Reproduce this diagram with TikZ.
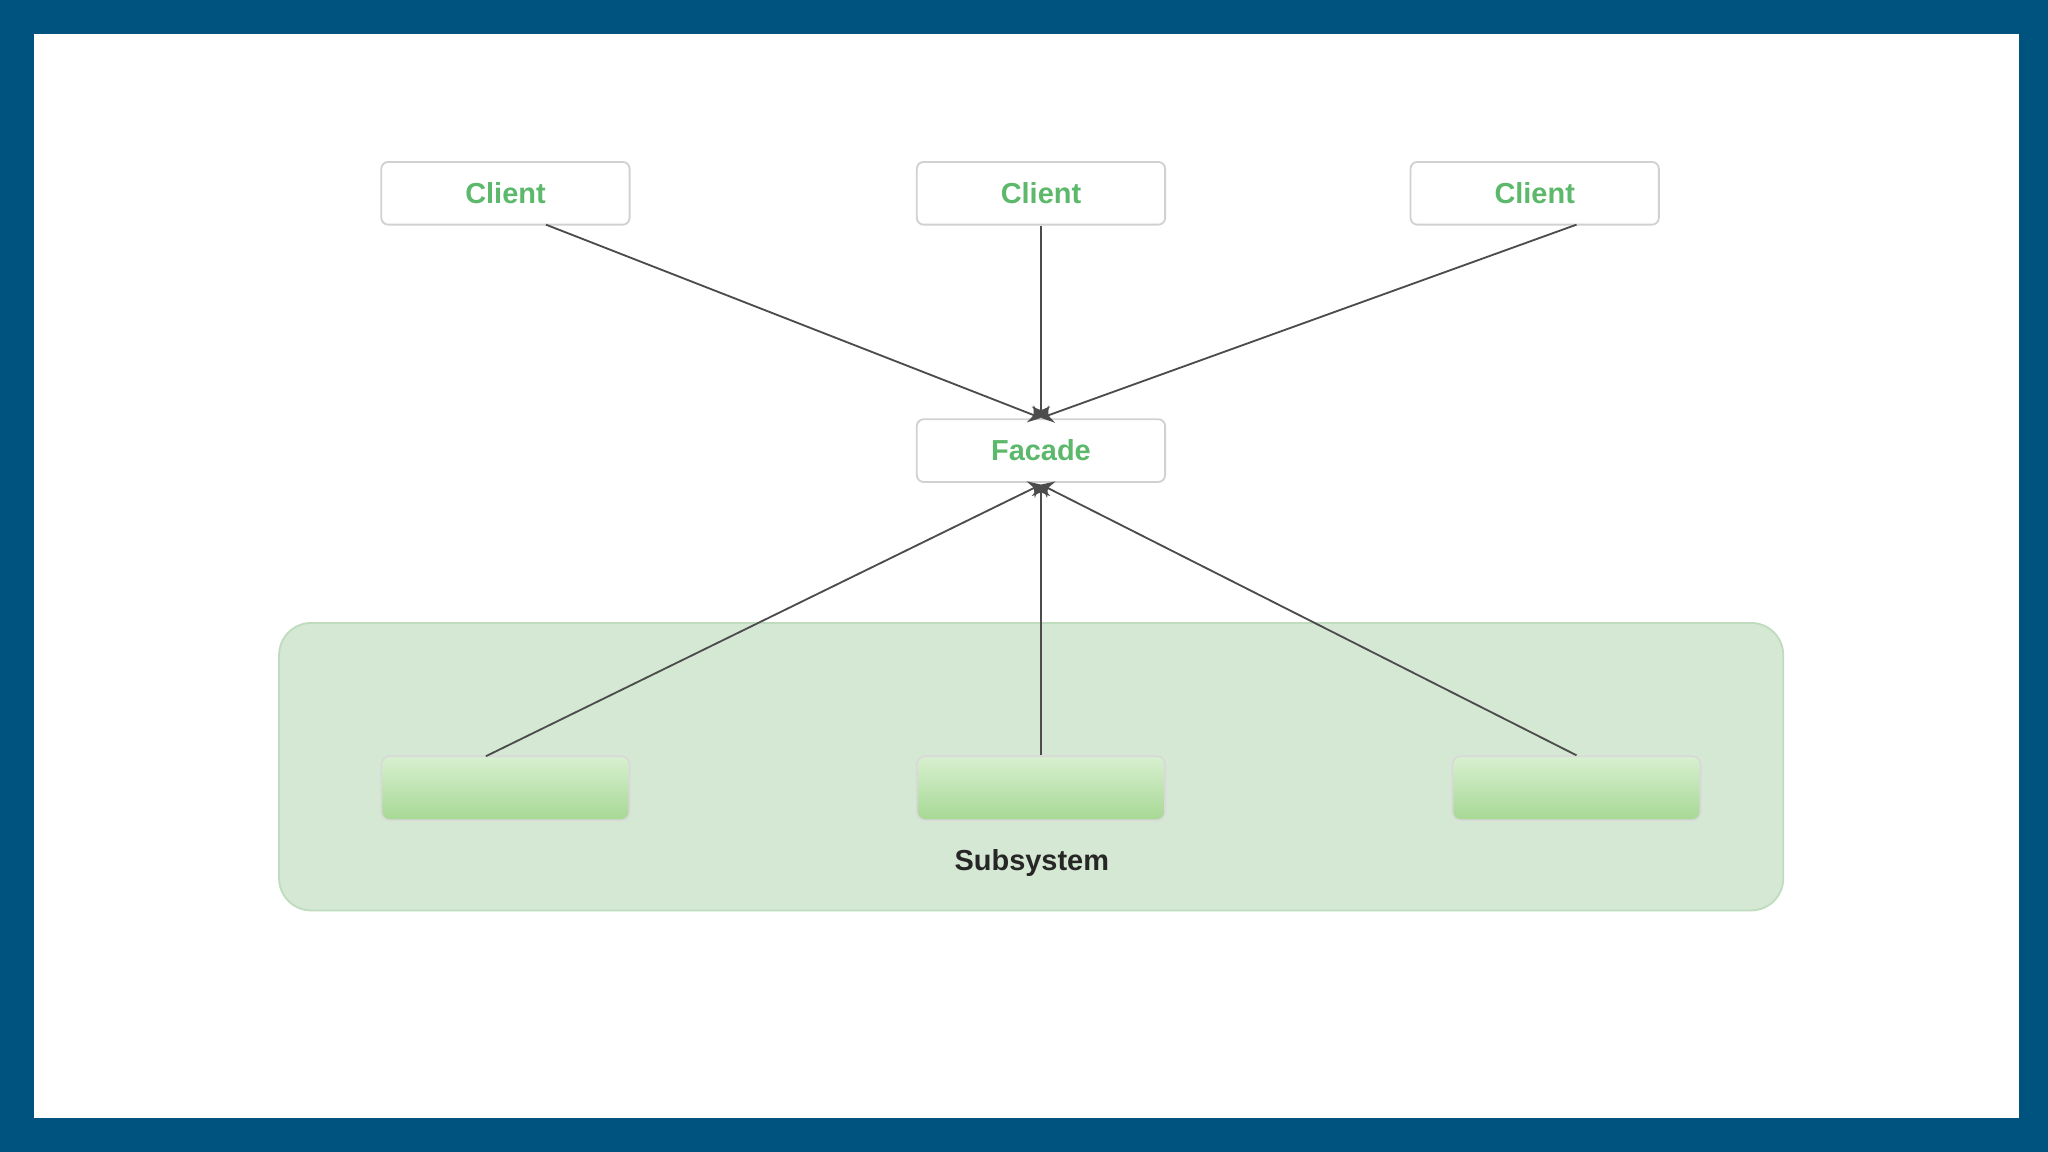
\documentclass[tikz,border=0pt]{standalone}
\usepackage{fontspec}
\setmainfont{Liberation Sans}
\usetikzlibrary{arrows.meta}
\definecolor{frame}{HTML}{00527F}
\definecolor{txtgreen}{HTML}{5CB86A}
\definecolor{subfill}{HTML}{D5E8D4}
\definecolor{subdraw}{HTML}{BFDDBE}
\definecolor{ptop}{HTML}{D8F0D0}
\definecolor{pbot}{HTML}{A6D894}
\begin{document}
\begin{tikzpicture}[x=0.01cm,y=-0.01cm,
  client/.style={draw=black!18,fill=white,rounded corners=1.5pt,minimum width=1.9cm,minimum height=0.48cm,inner sep=0pt,text=txtgreen,font=\bfseries\fontsize{6.3pt}{7pt}\selectfont},
  part/.style={draw=black!15,rounded corners=1.8pt,minimum width=1.9cm,minimum height=0.49cm,inner sep=0pt,top color=ptop,bottom color=pbot},
  conn/.style={draw=black!70,line width=0.4pt,-{Stealth[length=2.5pt,width=4pt]}}]
\fill[frame] (0,0) rectangle (1568,882);
\fill[white] (26,26) rectangle (1546,856);
\node[draw=subdraw,fill=subfill,rounded corners=7pt,minimum width=11.51cm,minimum height=2.2cm] (sub) at (789.5,587) {};
\node[font=\bfseries\fontsize{6.3pt}{7pt}\selectfont,text=black!85] (sublabel) at (790,661) {Subsystem};
\node[client] (c1) at (387,148) {Client};
\node[client] (c2) at (797,148) {Client};
\node[client] (c3) at (1175,148) {Client};
\node[client] (fac) at (797,345) {Facade};
\node[part] (p1) at (387,603.5) {};
\node[part] (p2) at (797,603.5) {};
\node[part] (p3) at (1207,603.5) {};
\coordinate (ft) at (797,320);
\coordinate (fb) at (797,371);
\coordinate (c1s) at (418,172);
\coordinate (c3s) at (1207,172);
\coordinate (p1s) at (372,579);
\draw[conn] (c1s) -- (ft);
\draw[conn] (c2.south) -- (ft);
\draw[conn] (c3s) -- (ft);
\draw[conn] (p1s) -- (fb);
\draw[conn] (p2.north) -- (fb);
\draw[conn] (p3.north) -- (fb);
\end{tikzpicture}
\end{document}
